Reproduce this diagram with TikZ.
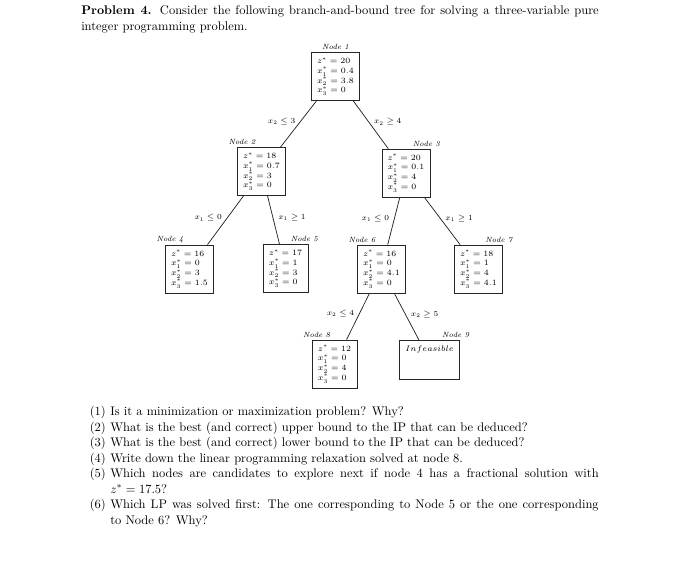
\RequirePackage{fix-cm}
\documentclass[tikz,border=0pt]{standalone}
\usepackage{amsmath,amssymb}
\usepackage{enumitem}
\newcommand{\treefont}{\fontsize{6.5}{7.8}\selectfont}
\tikzset{
  lpbox/.style={draw=black!85,line width=0.6pt,font=\treefont,align=left,
    minimum width=36pt,inner xsep=4.5pt,inner ysep=4pt},
  nodetag/.style={font=\fontsize{6}{7}\selectfont\itshape,anchor=south,inner sep=1.5pt},
  lchild/.style={lpbox,label={[nodetag,xshift=4pt]north west:Node #1}},
  rchild/.style={lpbox,label={[nodetag,xshift=-3.2pt]north east:Node #1}},
  branch/.style={draw=black!85,line width=0.6pt},
  cut/.style={font=\fontsize{6.2}{7.4}\selectfont,inner sep=4pt},
  prose/.style={font=\fontsize{10}{12.4}\selectfont,inner sep=0pt}
}

\begin{document}
\begin{tikzpicture}[x=0.8pt,y=-0.8pt]
  \useasboundingbox (0,0) rectangle (700,587);

  % statement
  \node[prose,anchor=north west] (stmt) at (81,5.5) {\begin{minipage}{414pt}
    \textbf{Problem 4.} Consider the following branch-and-bound tree for solving a three-variable pure\linebreak
    integer programming problem.
  \end{minipage}};

  % the tree
  \node[lpbox,label={[nodetag]north:Node 1}] (n1) at (335.5,76.5)
    {$z^*=20$\\ $x_1^*=0.4$\\ $x_2^*=3.8$\\ $x_3^*=0$};
  \node[lchild=2] (n2) at (261.5,171.5)
    {$z^*=18$\\ $x_1^*=0.7$\\ $x_2^*=3$\\ $x_3^*=0$};
  \node[rchild=3] (n3) at (406,173)
    {$z^*=20$\\ $x_1^*=0.1$\\ $x_2^*=4$\\ $x_3^*=0$};
  \node[lchild=4] (n4) at (189.5,269)
    {$z^*=16$\\ $x_1^*=0$\\ $x_2^*=3$\\ $x_3^*=1.5$};
  \node[rchild=5] (n5) at (285.5,268.5)
    {$z^*=17$\\ $x_1^*=1$\\ $x_2^*=3$\\ $x_3^*=0$};
  \node[lchild=6] (n6) at (381.5,269)
    {$z^*=16$\\ $x_1^*=0$\\ $x_2^*=4.1$\\ $x_3^*=0$};
  \node[rchild=7] (n7) at (478.5,269)
    {$z^*=18$\\ $x_1^*=1$\\ $x_2^*=4$\\ $x_3^*=4.1$};
  \node[lchild=8] (n8) at (334.5,364)
    {$z^*=12$\\ $x_1^*=0$\\ $x_2^*=4$\\ $x_3^*=0$};
  \node[rchild=9,align=center,minimum width=41pt,text depth=18.5pt] (n9) at (429.5,360)
    {$Infeasible$};

  \draw[branch] (n1) -- node[cut,left,pos=0.44] {$x_2\leq 3$} (n2);
  \draw[branch] (n1) -- node[cut,right,pos=0.44] {$x_2\geq 4$} (n3);
  \draw[branch] (n2) -- node[cut,left,pos=0.45] {$x_1\leq 0$} (n4);
  \draw[branch] (n2) -- node[cut,right,pos=0.45] {$x_1\geq 1$} (n5);
  \draw[branch] (n3) -- node[cut,left,pos=0.44] {$x_1\leq 0$} (n6);
  \draw[branch] (n3) -- node[cut,right,pos=0.44] {$x_1\geq 1$} (n7);
  \draw[branch] (n6) -- node[cut,left,pos=0.43] {$x_2\leq 4$} (n8);
  \draw[branch] (n6) -- node[cut,right,pos=0.45] {$x_2\geq 5$} (n9);

  % questions
  \node[prose,anchor=north west] (quiz) at (81,406) {\begin{minipage}{414pt}
    \begin{enumerate}[label=(\arabic*),leftmargin=23.2pt,labelsep=3.6pt,
      topsep=0pt,partopsep=0pt,itemsep=0pt,parsep=0pt]
      \item Is it a minimization or maximization problem? Why?
      \item What is the best (and correct) upper bound to the IP that can be deduced?
      \item What is the best (and correct) lower bound to the IP that can be deduced?
      \item Write down the linear programming relaxation solved at node 8.
      \item Which nodes are candidates to explore next if node 4 has a fractional solution with\linebreak
        $z^*=17.5$?
      \item Which LP was solved first: The one corresponding to Node 5 or the one corresponding\linebreak
        to Node 6? Why?
    \end{enumerate}
  \end{minipage}};
\end{tikzpicture}
\end{document}
